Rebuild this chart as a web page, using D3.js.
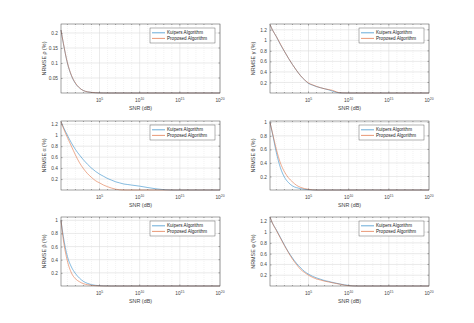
<!DOCTYPE html>
<html><head><meta charset="utf-8">
<script src="https://cdn.jsdelivr.net/npm/d3@7"></script>
<style>
html,body{margin:0;padding:0;background:#fff;}
svg{display:block;font-family:"Liberation Sans",Arial,sans-serif;}
</style></head>
<body>
<svg id="chart" width="474" height="323"></svg>
<script>
// ---- data ----
const snr = [1.6, 3.16, 10, 31.6, 100, 316, 1e3, 3.16e3, 1e4, 3.16e4, 1e5, 3.16e5, 1e6, 3.16e6, 1e7, 3.16e7, 1e8, 3.16e8, 1e9, 1e10, 1e11, 1e12, 1e13, 1e14, 1e15, 1e16, 1e17, 1e18, 1e19, 1e20];
const seriesNames = ["Kuipers Algorithm", "Proposed Algorithm"];
const xTicks = [1e5, 1e10, 1e15, 1e20];
const xTickExp = ["5", "10", "15", "20"];
const xLabel = "SNR (dB)";

const rhoKuipers  = [0.21, 0.165, 0.10, 0.058, 0.032, 0.017, 0.008, 0.004, 0.002, 0.001, 0.0005, 0.0002, 0, 0, 0, 0, 0, 0, 0, 0, 0, 0, 0, 0, 0, 0, 0, 0, 0, 0];
const rhoProposed = [0.21, 0.166, 0.101, 0.059, 0.033, 0.017, 0.008, 0.004, 0.002, 0.001, 0.0003, 0.0001, 0, 0, 0, 0, 0, 0, 0, 0, 0, 0, 0, 0, 0, 0, 0, 0, 0, 0];
const gammaKuipers  = [1.30, 1.20, 1.07, 0.92, 0.79, 0.66, 0.54, 0.43, 0.33, 0.25, 0.18, 0.15, 0.12, 0.10, 0.08, 0.06, 0.035, 0.012, 0.002, 0, 0, 0, 0, 0, 0, 0, 0, 0, 0, 0];
const gammaProposed = [1.30, 1.20, 1.07, 0.93, 0.79, 0.66, 0.54, 0.43, 0.33, 0.25, 0.19, 0.155, 0.125, 0.10, 0.08, 0.065, 0.05, 0.02, 0.003, 0, 0, 0, 0, 0, 0, 0, 0, 0, 0, 0];
const alphaKuipers  = [1.25, 1.15, 1.0, 0.86, 0.74, 0.64, 0.55, 0.47, 0.40, 0.34, 0.29, 0.25, 0.21, 0.18, 0.15, 0.13, 0.11, 0.10, 0.09, 0.07, 0.045, 0.022, 0.006, 0, 0, 0, 0, 0, 0, 0];
const alphaProposed = [1.25, 1.13, 0.96, 0.80, 0.64, 0.50, 0.39, 0.30, 0.23, 0.17, 0.13, 0.09, 0.06, 0.035, 0.015, 0.004, 0, 0, 0, 0, 0, 0, 0, 0, 0, 0, 0, 0, 0, 0];
const thetaKuipers  = [1.0, 0.84, 0.55, 0.33, 0.19, 0.11, 0.06, 0.035, 0.02, 0.01, 0.005, 0.002, 0, 0, 0, 0, 0, 0, 0, 0, 0, 0, 0, 0, 0, 0, 0, 0, 0, 0];
const thetaProposed = [1.0, 0.85, 0.60, 0.40, 0.27, 0.18, 0.12, 0.07, 0.04, 0.02, 0.01, 0.003, 0, 0, 0, 0, 0, 0, 0, 0, 0, 0, 0, 0, 0, 0, 0, 0, 0, 0];
const betaKuipers  = [1.0, 0.75, 0.45, 0.29, 0.19, 0.12, 0.07, 0.04, 0.02, 0.01, 0.005, 0.002, 0.001, 0, 0, 0, 0, 0, 0, 0, 0, 0, 0, 0, 0, 0, 0, 0, 0, 0];
const betaProposed = [1.0, 0.70, 0.38, 0.20, 0.11, 0.065, 0.035, 0.02, 0.01, 0.005, 0.002, 0.001, 0, 0, 0, 0, 0, 0, 0, 0, 0, 0, 0, 0, 0, 0, 0, 0, 0, 0];
const phiKuipers  = [1.28, 1.17, 1.04, 0.90, 0.76, 0.63, 0.52, 0.42, 0.34, 0.27, 0.22, 0.18, 0.15, 0.125, 0.10, 0.085, 0.065, 0.05, 0.035, 0.01, 0, 0, 0, 0, 0, 0, 0, 0, 0, 0];
const phiProposed = [1.28, 1.17, 1.03, 0.89, 0.75, 0.62, 0.50, 0.40, 0.31, 0.25, 0.20, 0.16, 0.13, 0.11, 0.09, 0.075, 0.06, 0.045, 0.03, 0.005, 0, 0, 0, 0, 0, 0, 0, 0, 0, 0];

const yLabels = ["NRMSE ρ (%)", "NRMSE γ (%)", "NRMSE α (%)", "NRMSE θ (%)", "NRMSE β (%)", "NRMSE φ (%)"];
const yMax = [0.23, 1.31, 1.26, 1.02, 1.05, 1.28];
const yTicksA = [0.05, 0.1, 0.15, 0.2];
const yTicksB = [0.2, 0.4, 0.6, 0.8, 1, 1.2];
const yTicksC = [0.2, 0.4, 0.6, 0.8, 1];

const panels = [
  {k: rhoKuipers, p: rhoProposed, yl: yLabels[0], ym: yMax[0], yt: yTicksA},
  {k: gammaKuipers, p: gammaProposed, yl: yLabels[1], ym: yMax[1], yt: yTicksB},
  {k: alphaKuipers, p: alphaProposed, yl: yLabels[2], ym: yMax[2], yt: yTicksB},
  {k: thetaKuipers, p: thetaProposed, yl: yLabels[3], ym: yMax[3], yt: yTicksC},
  {k: betaKuipers, p: betaProposed, yl: yLabels[4], ym: yMax[4], yt: yTicksC},
  {k: phiKuipers, p: phiProposed, yl: yLabels[5], ym: yMax[5], yt: yTicksB}
];

// ---- layout ----
const colLeft = [61, 270], W = 159;
const rowTop = [24, 121, 217], H = 69;
const colors = ["#0072BD", "#D95319"];
const axisColor = "#444";
const textColor = "#444";

const svg = d3.select("#chart");

panels.forEach((pn, i) => {
  const cx = colLeft[i % 2], cy = rowTop[Math.floor(i / 2)];
  const g = svg.append("g").attr("transform", `translate(${cx},${cy})`);
  const x = d3.scaleLog().domain([snr[0], snr[snr.length - 1]]).range([0, W]);
  const y = d3.scaleLinear().domain([0, pn.ym]).range([H, 0]);

  const decades = d3.range(1, 20).map(e => Math.pow(10, e));
  g.selectAll(".mg").data(decades.filter(d => !xTicks.includes(d))).join("line")
    .attr("x1", d => x(d)).attr("x2", d => x(d)).attr("y1", 0).attr("y2", H)
    .attr("stroke", "#e6e6e6").attr("stroke-width", 0.5).attr("stroke-dasharray", "1,1");
  g.selectAll(".gx").data(xTicks).join("line")
    .attr("x1", d => x(d)).attr("x2", d => x(d)).attr("y1", 0).attr("y2", H)
    .attr("stroke", "#dcdcdc").attr("stroke-width", 0.6);
  g.selectAll(".gy").data(pn.yt).join("line")
    .attr("x1", 0).attr("x2", W).attr("y1", d => y(d)).attr("y2", d => y(d))
    .attr("stroke", "#dcdcdc").attr("stroke-width", 0.6);

  g.selectAll(".xtl").data(xTicks).join("text")
    .attr("x", d => x(d)).attr("y", H + 8.5).attr("text-anchor", "middle")
    .attr("font-size", 4.8).attr("fill", textColor)
    .each(function (d, j) {
      const t = d3.select(this);
      t.append("tspan").text("10");
      t.append("tspan").attr("dy", -2).attr("font-size", 3.4).text(xTickExp[j]);
    });
  const tm = [];
  decades.forEach(d => tm.push({v: d, len: xTicks.includes(d) ? 1.6 : 1}));
  g.selectAll(".txb").data(tm).join("line")
    .attr("x1", d => x(d.v)).attr("x2", d => x(d.v)).attr("y1", H).attr("y2", d => H - d.len)
    .attr("stroke", axisColor).attr("stroke-width", 0.4);
  g.selectAll(".txt").data(tm).join("line")
    .attr("x1", d => x(d.v)).attr("x2", d => x(d.v)).attr("y1", 0).attr("y2", d => d.len)
    .attr("stroke", axisColor).attr("stroke-width", 0.4);

  const ya = d3.axisLeft(y).tickValues(pn.yt).tickSize(-1.6).tickPadding(3)
    .tickFormat(d => d3.format("~g")(d));
  const yg = g.append("g").call(ya);
  yg.select(".domain").remove();
  yg.selectAll(".tick line").attr("stroke", axisColor).attr("stroke-width", 0.4);
  yg.selectAll(".tick text").attr("font-size", 4.8).attr("fill", textColor)
    .attr("font-family", "Liberation Sans, Arial, sans-serif");
  g.selectAll(".tyr").data(pn.yt).join("line")
    .attr("x1", W).attr("x2", W - 1.6).attr("y1", d => y(d)).attr("y2", d => y(d))
    .attr("stroke", axisColor).attr("stroke-width", 0.4);

  const line = d3.line().x((d, j) => x(snr[j])).y(d => y(d)).curve(d3.curveMonotoneX);
  [pn.k, pn.p].forEach((s, j) => {
    g.append("path").datum(s).attr("d", line).attr("fill", "none")
      .attr("stroke", colors[j]).attr("stroke-width", 0.6).attr("stroke-opacity", 0.8);
  });

  g.append("rect").attr("x", 0).attr("y", 0).attr("width", W).attr("height", H)
    .attr("fill", "none").attr("stroke", axisColor).attr("stroke-width", 0.5);

  g.append("text").attr("x", W / 2).attr("y", H + 16.5).attr("text-anchor", "middle")
    .attr("font-size", 5.4).attr("fill", textColor).text(xLabel);
  g.append("text").attr("transform", `translate(-15.5,${H / 2}) rotate(-90)`)
    .attr("text-anchor", "middle").attr("font-size", 5.4).attr("fill", textColor).text(pn.yl);

  const lg = g.append("g").attr("transform", `translate(${W - 70},4)`);
  lg.append("rect").attr("x", 0).attr("y", 0).attr("width", 65).attr("height", 15)
    .attr("fill", "#fff").attr("stroke", axisColor).attr("stroke-width", 0.4);
  seriesNames.forEach((nm, j) => {
    const yy = 4.8 + j * 5.6;
    lg.append("line").attr("x1", 2).attr("x2", 15).attr("y1", yy).attr("y2", yy)
      .attr("stroke", colors[j]).attr("stroke-width", 0.6);
    lg.append("text").attr("x", 17).attr("y", yy + 1.6).attr("font-size", 4.6)
      .attr("fill", "#222").text(nm);
  });
});
</script>
</body></html>
